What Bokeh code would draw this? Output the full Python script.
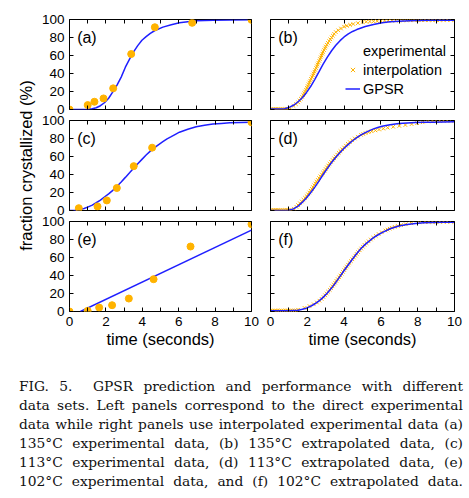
from bokeh.plotting import figure
from bokeh.models import Range1d, LinearAxis, FixedTicker, Label, Legend, LegendItem, Div, Spacer
from bokeh.layouts import row, column
from bokeh.embed import file_html
from bokeh.resources import INLINE

ORANGE = "#FFB300"
BLUE = "#1F1FFF"
FONT = "Liberation Sans"

# ---------------- data ----------------
# (a) 135 C experimental
a_t = [0, 1.0, 1.37, 1.87, 2.4, 3.39, 4.69, 6.74, 10.0]
a_y = [0, 4.9, 8.6, 12.3, 23.5, 61.6, 91.4, 96.3, 99.6]
a_gt = [0, 0.5, 1.0, 1.25, 1.47, 1.7, 1.92, 2.15, 2.38, 2.61, 2.84, 3.07, 3.3, 3.52,
        3.75, 3.98, 4.21, 4.44, 4.67, 5.13, 5.59, 6.04, 6.5, 6.96, 7.9, 8.8, 10]
a_gy = [0, 0, 0.3, 0.9, 1.9, 4.2, 7.5, 12.5, 19.5, 27, 36, 47, 56, 64,
        71, 77, 81, 84.5, 87.5, 91.5, 94.2, 96.3, 97.6, 98.5, 99.3, 99.5, 99.6]

# (b) 135 C interpolation
b_it = [0.0, 0.1, 0.2, 0.3, 0.4, 0.5, 0.6, 0.7, 0.8, 0.9,
        1.05, 1.25, 1.38, 1.5, 1.58, 1.65, 1.72, 1.78, 1.83, 1.88,
        1.93, 1.98, 2.02, 2.07, 2.11, 2.16, 2.2, 2.25, 2.3, 2.34,
        2.39, 2.43, 2.48, 2.52, 2.56, 2.6, 2.65, 2.69, 2.73, 2.77,
        2.82, 2.86, 2.91, 2.96, 3.0, 3.06, 3.12, 3.19, 3.25, 3.32,
        3.39, 3.46, 3.55, 3.68, 3.83, 4.0, 4.15, 4.33, 4.5, 4.75,
        5.0, 5.2, 5.4, 5.6, 5.8, 6.0, 6.2, 6.4, 6.6, 6.8, 7.0, 7.2, 7.4,
        7.6, 7.8, 8.0, 8.2, 8.4, 8.6, 8.8, 9.0, 9.2, 9.4, 9.6, 9.8, 10.0]
b_iy = [0.5, 0.5, 0.5, 0.5, 0.5, 0.5, 0.5, 0.5, 0.5, 0.5,
        2, 4, 6, 8, 10, 12, 14, 16, 18, 20,
        22, 24, 26, 28, 30, 32, 34, 36, 38, 40,
        42, 44, 46, 48, 50, 52, 54, 56, 58, 60,
        62, 64, 66, 68, 70, 72, 74, 76, 78, 80,
        82, 84, 86, 88, 90, 92, 93, 94, 95, 96,
        97.2, 97.5, 97.8, 98.0, 98.2, 98.4, 98.5, 98.6, 98.7, 98.8, 98.9, 99.0, 99.0,
        99.1, 99.1, 99.2, 99.2, 99.3, 99.3, 99.3, 99.4, 99.4, 99.4, 99.5, 99.5, 99.5]
b_gt = [0, 0.5, 0.77, 1.04, 1.27, 1.5, 1.73, 1.95, 2.18, 2.41, 2.64, 2.86, 3.09, 3.32,
        3.55, 3.78, 4.0, 4.23, 4.46, 4.69, 5.15, 5.6, 6.06, 6.5, 6.97, 7.9, 8.8, 10]
b_gy = [0.5, 0.5, 0.8, 2.6, 5.0, 8.6, 13.0, 18.7, 25.5, 33.6, 42, 50.4, 58.2, 65.3,
        71.3, 76.5, 80.6, 84, 86.7, 88.8, 92.2, 94.5, 96.3, 97.4, 98.1, 98.9, 99.2, 99.3]

# (c) 113 C experimental
c_t = [0.51, 1.54, 2.05, 2.6, 3.53, 4.54, 10.0]
c_y = [2.6, 4.5, 11.2, 25.0, 49.3, 69.8, 98.1]
c_gt = [0, 0.3, 0.55, 0.8, 1.0, 1.25, 1.47, 1.7, 1.92, 2.15, 2.38, 2.61, 2.84, 3.07,
        3.3, 3.52, 3.75, 3.98, 4.21, 4.44, 4.67, 4.9, 5.13, 5.36, 5.59, 5.82, 6.04,
        6.5, 6.96, 7.42, 7.88, 8.34, 8.8, 9.4, 10]
c_gy = [0, 0.2, 1.0, 2.3, 3.8, 6.0, 8.6, 11.5, 15, 18.5, 22.4, 27, 31.7, 36.8,
        42, 47, 52, 56.8, 61.6, 66, 69.8, 73.3, 76.5, 79.5, 82, 84.6, 87,
        90.3, 93, 94.8, 96, 96.8, 97.4, 97.8, 98.1]

# (d) 113 C interpolation
d_it = [0.0, 0.1, 0.2, 0.3, 0.4, 0.5, 0.6, 0.7, 0.8, 0.9, 1.0, 1.1,
        1.27, 1.41, 1.5, 1.6, 1.7, 1.79, 1.88, 1.96, 2.04, 2.11,
        2.18, 2.25, 2.31, 2.38, 2.44, 2.5, 2.57, 2.64, 2.71, 2.79,
        2.86, 2.93, 3.0, 3.07, 3.14, 3.21, 3.29, 3.38, 3.46, 3.54,
        3.63, 3.71, 3.8, 3.9, 4.0, 4.1, 4.2, 4.31, 4.44, 4.58,
        4.75, 4.92,
        5.04, 5.17, 5.33, 5.5, 5.7, 5.9, 6.13, 6.37, 6.67, 7.0, 7.33, 7.67, 7.97, 8.27, 8.55,
        8.8, 9.0, 9.2, 9.4, 9.6, 9.8, 10.0]
d_iy = [0.5, 0.5, 0.5, 0.5, 0.5, 0.5, 0.5, 0.5, 0.5, 0.5, 0.5, 0.5,
        2, 4, 6, 8, 10, 12, 14, 16, 18, 20,
        22, 24, 26, 28, 30, 32, 34, 36, 38, 40,
        42, 44, 46, 48, 50, 52, 54, 56, 58, 60,
        62, 64, 66, 68, 70, 72, 74, 76, 78, 80,
        82, 84,
        85, 86, 87, 88, 89, 90, 91, 92, 93, 94, 95, 96, 97, 98, 99,
        99.5, 99.6, 99.7, 99.7, 99.8, 99.8, 99.8]
d_gt = [0, 0.5, 0.99, 1.25, 1.5, 1.72, 1.95, 2.18, 2.41, 2.64, 2.86, 3.09, 3.32, 3.55,
        3.78, 4.0, 4.23, 4.46, 4.69, 4.92, 5.15, 5.38, 5.6, 5.83, 6.06, 6.5, 6.97,
        7.42, 7.88, 8.34, 8.8, 9.4, 10]
d_gy = [0, 0, 0.2, 1.8, 4.9, 9.0, 13.8, 19.7, 26, 33, 40, 46.8, 53.4, 59.2,
        64.5, 69.2, 73.5, 77.5, 81, 84, 86.6, 88.8, 90.7, 92.3, 93.7, 95.4, 96.6,
        97.3, 97.8, 98.0, 98.1, 98.3, 98.5]

# (e) 102 C experimental
e_t = [0, 1.0, 1.63, 2.34, 3.26, 4.62, 6.65, 10.0]
e_y = [0, 0.7, 4.4, 7.0, 14.4, 35.9, 72.2, 97.0]
e_gt = [0.6, 10.0]
e_gy = [0, 90.4]

# (f) 102 C interpolation
f_it = [0.0, 0.1, 0.2, 0.3, 0.4, 0.5, 0.6, 0.7, 0.8, 0.9, 1.0, 1.1, 1.2, 1.3, 1.4,
        1.5, 1.85, 2.12, 2.35, 2.52, 2.66, 2.78, 2.88, 2.97, 3.05,
        3.13, 3.22, 3.3, 3.37, 3.44, 3.51, 3.58, 3.65, 3.73, 3.8,
        3.87, 3.94, 4.01, 4.08, 4.15, 4.22, 4.29, 4.37, 4.45, 4.53,
        4.61, 4.68, 4.76, 4.85, 4.93, 5.02, 5.11, 5.22, 5.33, 5.45,
        5.58, 5.72, 5.88, 6.05, 6.25,
        6.36, 6.48, 6.6, 6.75, 6.92, 7.1, 7.35, 7.65, 8.1,
        8.4, 8.6, 8.8, 9.0, 9.2, 9.4, 9.6, 9.8, 10.0]
f_iy = [1.0, 1.0, 1.0, 1.0, 1.0, 1.0, 1.0, 1.0, 1.0, 1.0, 1.0, 1.0, 1.0, 1.0, 1.0,
        2, 4, 6, 8, 10, 12, 14, 16, 18, 20,
        22, 24, 26, 28, 30, 32, 34, 36, 38, 40,
        42, 44, 46, 48, 50, 52, 54, 56, 58, 60,
        62, 64, 66, 68, 70, 72, 74, 76, 78, 80,
        82, 84, 86, 88, 90,
        91, 92, 93, 94, 95, 96, 97, 98, 99,
        99.3, 99.4, 99.5, 99.5, 99.6, 99.6, 99.7, 99.7, 99.7]
f_gt = [0, 0.5, 1.0, 1.5, 1.73, 1.95, 2.18, 2.41, 2.64, 2.86, 3.09, 3.32, 3.55, 3.78,
        4.0, 4.23, 4.46, 4.69, 4.92, 5.15, 5.38, 5.6, 5.83, 6.06, 6.5, 6.97, 7.42,
        7.88, 8.34, 8.8, 9.4, 10]
f_gy = [0.7, 0.7, 0.8, 1.5, 2.4, 3.7, 5.8, 8.6, 11.8, 15.7, 20.5, 26, 32.3, 39,
        45.5, 52, 58.3, 64.5, 70, 74.6, 78.5, 82, 85, 87.7, 92, 95, 96.6,
        97.8, 98.5, 98.9, 99.2, 99.3]

x_major = [0, 2, 4, 6, 8, 10]
x_minor = [1, 3, 5, 7, 9]
y_major = [0, 20, 40, 60, 80, 100]

caption_lines = [
    "FIG. 5.&nbsp; GPSR prediction and performance with different",
    "data sets. Left panels correspond to the direct experimental",
    "data while right panels use interpolated experimental data (a)",
    "135°C experimental data, (b) 135°C extrapolated data, (c)",
    "113°C experimental data, (d) 113°C extrapolated data, (e)",
    "102°C experimental data, and (f) 102°C extrapolated data.",
]


# ---------------- helpers ----------------
def style_axis(ax, ticks, minor, show_labels):
    ax.ticker = FixedTicker(ticks=ticks, minor_ticks=minor)
    ax.axis_line_color = None
    ax.major_tick_in = 4
    ax.major_tick_out = 0
    ax.minor_tick_in = 4
    ax.minor_tick_out = 0
    ax.major_tick_line_color = "black"
    ax.minor_tick_line_color = "black"
    if show_labels:
        ax.major_label_text_font = FONT
        ax.major_label_text_font_size = "13.5px"
        ax.major_label_text_color = "black"
        ax.major_label_standoff = 5
    else:
        ax.major_label_text_font_size = "1px"
        ax.major_label_text_color = None
        ax.major_label_standoff = 0


def panel(left_col, row_idx, tag):
    mt = 11
    mb = 45 if row_idx == 2 else 10
    if left_col:
        ml, mr, w = 32, 9, 223
    else:
        ml, mr, w = 10, 12, 206
    h = mt + 90 + mb
    p = figure(width=w, height=h, x_range=Range1d(0, 10), y_range=Range1d(0, 100),
               output_backend="svg", toolbar_location=None,
               min_border_left=ml, min_border_right=mr,
               min_border_top=mt, min_border_bottom=mb)
    p.grid.visible = False
    p.outline_line_color = "black"
    p.outline_line_width = 1
    p.background_fill_color = None
    p.border_fill_color = None
    bottom = p.xaxis[0]
    left = p.yaxis[0]
    style_axis(bottom, x_major, x_minor, row_idx == 2)
    style_axis(left, y_major, [], left_col)
    top = LinearAxis()
    style_axis(top, x_major, x_minor, False)
    p.add_layout(top, "above")
    rgt = LinearAxis()
    style_axis(rgt, y_major, [], False)
    p.add_layout(rgt, "right")
    if row_idx == 2:
        bottom.axis_label = "time (seconds)"
        bottom.axis_label_text_font = FONT
        bottom.axis_label_text_font_size = "16.5px"
        bottom.axis_label_text_font_style = "normal"
        bottom.axis_label_text_color = "black"
        bottom.axis_label_standoff = 1
    p.add_layout(Label(x=0.42, y=80, text=tag, text_font=FONT, text_font_size="16px",
                       text_baseline="middle", text_align="left", text_color="black"))
    return p


def exp_panel(row_idx, tag, t, y, gt, gy):
    p = panel(True, row_idx, tag)
    p.line(gt, gy, line_color=BLUE, line_width=1.5)
    p.scatter(t, y, marker="circle", size=7, fill_color=ORANGE, line_color=ORANGE)
    return p


def int_panel(row_idx, tag, it, iy, gt, gy, legend=False):
    p = panel(False, row_idx, tag)
    r_x = p.scatter(it, iy, marker="x", size=5, line_color=ORANGE, line_width=1)
    r_g = p.line(gt, gy, line_color=BLUE, line_width=1.5)
    if legend:
        r_e = p.scatter([], [], marker="circle", size=7, fill_color=ORANGE, line_color=ORANGE)
        lg = Legend(items=[LegendItem(label="experimental", renderers=[r_e]),
                           LegendItem(label="interpolation", renderers=[r_x]),
                           LegendItem(label="GPSR", renderers=[r_g])],
                    location=(75, 11), border_line_color=None, background_fill_alpha=0,
                    padding=0, margin=0, spacing=0, glyph_width=15, glyph_height=19,
                    label_height=19, label_standoff=3, label_text_font=FONT,
                    label_text_font_size="14.5px", label_text_color="black")
        p.add_layout(lg)
    return p


pa = exp_panel(0, "(a)", a_t, a_y, a_gt, a_gy)
pb = int_panel(0, "(b)", b_it, b_iy, b_gt, b_gy, legend=True)
pc = exp_panel(1, "(c)", c_t, c_y, c_gt, c_gy)
pd = int_panel(1, "(d)", d_it, d_iy, d_gt, d_gy)
pe = exp_panel(2, "(e)", e_t, e_y, e_gt, e_gy)
pf = int_panel(2, "(f)", f_it, f_iy, f_gt, f_gy)

grid_h = 348
lab = figure(width=29, height=grid_h, x_range=Range1d(0, 29), y_range=Range1d(0, grid_h),
             x_axis_type=None, y_axis_type=None, output_backend="svg", toolbar_location=None,
             min_border=0, outline_line_color=None)
lab.grid.visible = False
lab.add_layout(Label(x=17.5, y=191, text="fraction crystallized (%)", angle=1.5707963,
                     text_font=FONT, text_font_size="16.5px", text_align="center",
                     text_baseline="middle", text_color="black"))

body = "".join(
    '<div style="text-align:justify;text-align-last:justify;height:19px;line-height:19px;">%s</div>' % s
    for s in caption_lines)
cap = Div(text='<div style="font-family:\'DejaVu Serif\';font-size:13.8px;color:#111;'
               'padding-top:16px;padding-left:6px;width:450px;">' + body + '</div>',
          width=456, height=130)

r1 = row(pa, pb)
r2 = row(pc, pd, styles={"margin-top": "-10px"})
r3 = row(pe, pf, styles={"margin-top": "-10px"})
grid = column(r1, r2, r3)
main = column(row(lab, grid), cap)
layout = column(Spacer(height=8), row(Spacer(width=8), main))

open("out.html", "w").write(file_html(layout, INLINE))
